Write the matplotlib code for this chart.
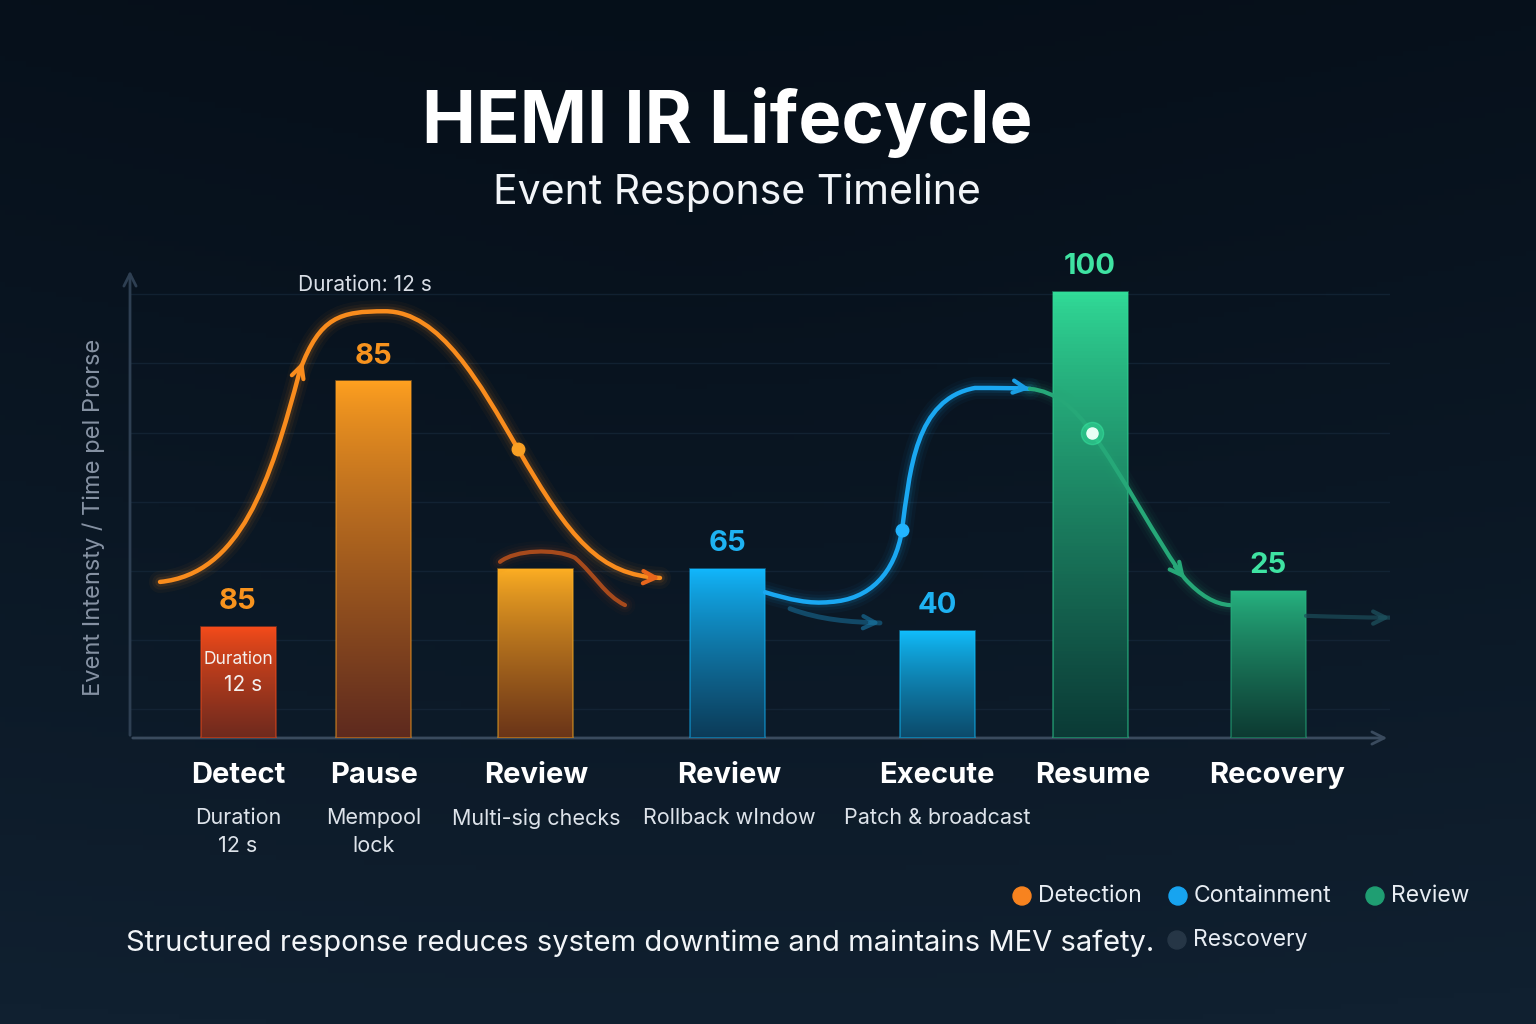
import numpy as np
import matplotlib.pyplot as plt
from matplotlib.path import Path
from matplotlib.patches import PathPatch, Rectangle, Ellipse
from matplotlib import colors as mcolors

plt.rcParams['font.family'] = ['Inter', 'DejaVu Sans']

# data
stages = ['Detect', 'Pause', 'Review', 'Review', 'Execute', 'Resume', 'Recovery']
details = ['Duration\n12 s', 'Mempool\nlock', 'Multi-sig checks', 'Rollback wIndow',
           'Patch & broadcast', '', '']
positions = [1.08, 2.43, 4.05, 5.97, 8.07, 9.60, 11.38]
label_pos = [1.08, 2.44, 4.06, 5.99, 8.07, 9.63, 11.47]
heights = [25, 80, 38, 38, 24, 100, 33]
value_labels = ['85', '85', '', '65', '40', '100', '25']
legend_items = ['Detection', 'Containment', 'Review', 'Rescovery']

# flow curves (cubic bezier control points, x in stage units, y in intensity units)
flow_orange = [(0.30, 35.0), (1.10, 36.8), (1.40, 57.0), (1.70, 82.5),
               (1.90, 94.5), (2.10, 95.7), (2.55, 95.7),
               (3.10, 95.7), (3.50, 79.5), (3.88, 64.8),
               (4.40, 44.6), (4.70, 36.5), (5.30, 35.9)]
flow_orange_small = [(3.70, 39.5), (3.85, 42.2), (4.25, 42.6), (4.45, 40.4),
                     (4.65, 36.5), (4.75, 32.0), (4.95, 29.8)]
flow_blue = [(6.35, 32.7), (6.60, 31.0), (6.80, 30.0), (7.00, 30.5),
             (7.40, 31.0), (7.65, 37.0), (7.72, 46.6),
             (7.80, 60.0), (7.85, 76.0), (8.45, 78.5),
             (8.65, 78.5), (8.85, 78.5), (9.00, 78.3)]
flow_blue_faint = [(6.60, 29.0), (6.90, 26.5), (7.20, 26.0), (7.50, 25.8)]
flow_green = [(9.00, 78.3), (9.25, 77.8), (9.45, 74.0), (9.62, 68.4),
              (9.90, 60.0), (10.30, 43.0), (10.55, 35.7),
              (10.70, 32.0), (10.85, 30.0), (11.00, 29.8)]
flow_tail = [(11.76, 27.4), (12.05, 27.2), (12.30, 27.0), (12.60, 27.0)]

phase_colors = {'Detection': '#f7831f', 'Containment': '#17a4f0',
                'Review': '#1f9e72', 'Rescovery': '#263646'}
value_colors = ['#f7931e', '#f7931e', '#f7931e', '#1eb2f2', '#1eb2f2', '#3fe3a2', '#3fe3a2']
bar_tops = ['#f84c1a', '#ffa020', '#ffb023', '#12b9ff', '#11c0ff', '#31dc98', '#27b682']
bar_bottoms = ['#6e2a1e', '#5e2a1e', '#6a3418', '#0c3b58', '#0c4a6a', '#0b3a36', '#0d3a32']

W, H = 1536, 1024
fig = plt.figure(figsize=(W / 100, H / 100), dpi=100)

# background
bg = fig.add_axes([0, 0, 1, 1])
yy, xx = np.mgrid[0:1:200j, 0:1:300j]
c_top = np.array(mcolors.to_rgb('#050e18'))
c_bot = np.array(mcolors.to_rgb('#102030'))
t = np.clip(yy * 0.8 + 0.25 * np.hypot(xx - 0.45, yy - 0.25), 0, 1)[..., None]
bg.imshow(c_top * (1 - t) + c_bot * t, extent=[0, 1, 0, 1], aspect='auto', origin='upper')
bg.set_xlim(0, 1)
bg.set_ylim(0, 1)
bg.set_axis_off()

ax = fig.add_axes([130 / W, 1 - 738 / H, 1260 / W, 470 / H])
ax.set_xlim(0, 12.6)
ax.set_ylim(0, 105.4)
ax.patch.set_alpha(0)
for s in ax.spines.values():
    s.set_visible(False)
ax.set_xticks([])
ax.set_yticks([])

# grid
for gy in np.arange(6.5, 105, 15.5):
    ax.axhline(gy, color='#16283a', lw=1.0, alpha=0.7, zorder=0)

# axes with arrows
ax.annotate('', xy=(12.6, 0), xytext=(0, 0), annotation_clip=False,
            arrowprops=dict(arrowstyle='->', color='#3a4b5e', lw=2, mutation_scale=22))
ax.annotate('', xy=(0, 105.4), xytext=(0, 0), annotation_clip=False,
            arrowprops=dict(arrowstyle='->', color='#2e3f52', lw=2, mutation_scale=22))

# bars with vertical gradients
bw = 0.75
for x, h, ct, cb in zip(positions, heights, bar_tops, bar_bottoms):
    rect = Rectangle((x - bw / 2, 0), bw, h, facecolor='none', edgecolor='none', zorder=3)
    ax.add_patch(rect)
    g = np.linspace(0, 1, 128)[:, None] ** 0.8
    top = np.array(mcolors.to_rgb(ct))
    bot = np.array(mcolors.to_rgb(cb))
    img = np.repeat(top * (1 - g[..., None]) + bot * g[..., None], 2, axis=1)
    im = ax.imshow(img, extent=[x - bw / 2, x + bw / 2, 0, h], aspect='auto',
                   origin='upper', zorder=3)
    im.set_clip_path(rect)
    ax.add_patch(Rectangle((x - bw / 2, 0), bw, h, facecolor='none',
                           edgecolor=ct, lw=1.2, alpha=0.5, zorder=4))

for x, h, v, c in zip(positions, heights, value_labels, value_colors):
    if v:
        ax.text(x, h + 2.6, v, ha='center', va='bottom', color=c,
                fontsize=21, fontweight='bold', zorder=6)

ax.text(positions[0], 17.5, 'Duration', ha='center', va='center', color='#f4f0ee',
        fontsize=12.5, zorder=6)
ax.text(positions[0] + 0.05, 11.8, '12 s', ha='center', va='center', color='#f4f0ee',
        fontsize=15, zorder=6)


def bezier(pts, color, lw, alpha=1.0, glow=True, z=5):
    codes = [Path.MOVETO] + [Path.CURVE4] * (len(pts) - 1)
    p = Path(pts, codes)
    if glow:
        for k, a in [(5, 0.04), (3.5, 0.06), (2.2, 0.1)]:
            ax.add_patch(PathPatch(p, facecolor='none', edgecolor=color,
                                   lw=lw * k, alpha=a * alpha, capstyle='round', zorder=z))
    ax.add_patch(PathPatch(p, facecolor='none', edgecolor=color, lw=lw,
                           alpha=alpha, capstyle='round', zorder=z))


def head(p0, p1, color, alpha=1.0, size=22, z=6):
    ax.annotate('', xy=p1, xytext=p0, zorder=z,
                arrowprops=dict(arrowstyle='->', color=color, lw=3, alpha=alpha,
                                mutation_scale=size, shrinkA=0, shrinkB=0))


bezier(flow_orange, '#f98c1d', 3.2)
head(flow_orange[3], (1.73, 84.5), '#f98c1d')
head((5.2, 36.0), flow_orange[-1], '#e8661c')
ax.plot(*flow_orange[9], 'o', color='#f9a024', ms=9, zorder=7)
bezier(flow_orange_small, '#c9561b', 3.0, alpha=0.8)

bezier(flow_blue, '#1aa8f2', 3.2)
head((8.9, 78.6), flow_blue[-1], '#1a9ee4')
ax.plot(*flow_blue[6], 'o', color='#22b4ff', ms=9, zorder=7)
bezier(flow_blue_faint, '#176a94', 3.5, alpha=0.6, glow=False)
head((7.4, 25.9), flow_blue_faint[-1], '#176a94', alpha=0.7)

bezier(flow_green, '#26a878', 3.0)
head((10.45, 38.5), flow_green[6], '#26a878')
ax.plot(*flow_green[3], 'o', color='#3dffb0', ms=16, alpha=0.35, zorder=7)
ax.plot(*flow_green[3], 'o', color='#eafff6', ms=8, zorder=8)
bezier(flow_tail, '#1c4d5a', 3.0, alpha=0.7, glow=False)
head((12.5, 27.0), flow_tail[-1], '#1c4d5a', alpha=0.8)

ax.text(2.35, 101.5, 'Duration: 12 s', ha='center', va='center', color='#d9dee6',
        fontsize=15, zorder=6)

# stage labels
for x, s, d in zip(label_pos, stages, details):
    ax.text(x, -8.4, s, ha='center', va='center', color='#ffffff', fontsize=21,
            fontweight='bold', clip_on=False)
    if d:
        ax.text(x, -15.8, d, ha='center', va='top', color='#dde3ea', fontsize=15.5,
                linespacing=1.5, clip_on=False)

ax.set_ylabel('Event Intensty / Time pel Prorse', color='#8692a3', fontsize=17)
ax.yaxis.set_label_coords(-0.020, 0.47)

fig.text(727 / W, 1 - 123 / H, 'HEMI IR Lifecycle', ha='center', va='center',
         color='#ffffff', fontsize=52, fontweight='bold')
fig.text(737 / W, 1 - 192 / H, 'Event Response Timeline', ha='center', va='center',
         color='#f2f5f8', fontsize=29.5)
fig.text(126 / W, 1 - 943 / H, 'Structured response reduces system downtime and maintains MEV safety.',
         ha='left', va='center', color='#f2f5f8', fontsize=21)

# legend
leg_xy = [(1022, 896), (1178, 896), (1375, 896), (1177, 940)]
for (lx, ly), name in zip(leg_xy, legend_items):
    bg.add_patch(Ellipse((lx / W, 1 - ly / H), 18 / W, 18 / H,
                         color=phase_colors[name], zorder=5))
    fig.text((lx + 16) / W, 1 - ly / H, name, ha='left', va='center',
             color='#e8edf3', fontsize=16.5)

fig.savefig('out.png', dpi=100)
